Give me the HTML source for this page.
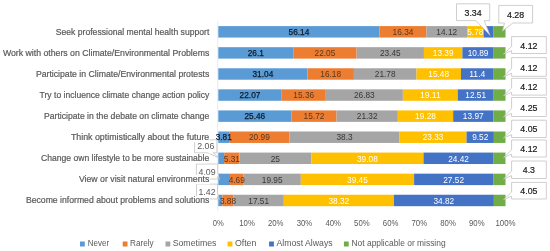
<!DOCTYPE html><html><head><meta charset="utf-8"><title>Chart</title><style>html,body{margin:0;padding:0;background:#fff;overflow:hidden;}svg{display:block;}text{font-family:'Liberation Sans', Arial, sans-serif;}</style></head><body>
<svg width="550" height="251" viewBox="0 0 550 251">
<rect x="0" y="0" width="550" height="251" fill="#fff"/>
<line x1="217.70" y1="21" x2="217.70" y2="211" stroke="#E3E3E3" stroke-width="0.8"/>
<rect x="218.30" y="26.10" width="161.23" height="11.45" fill="#5B9BD5"/>
<rect x="379.53" y="26.10" width="46.93" height="11.45" fill="#ED7D31"/>
<rect x="426.46" y="26.10" width="40.55" height="11.45" fill="#A5A5A5"/>
<rect x="467.02" y="26.10" width="16.60" height="11.45" fill="#FFC000"/>
<rect x="483.62" y="26.10" width="9.59" height="11.45" fill="#4472C4"/>
<rect x="493.21" y="26.10" width="12.29" height="11.45" fill="#70AD47"/>
<rect x="218.30" y="47.18" width="74.96" height="11.45" fill="#5B9BD5"/>
<rect x="293.26" y="47.18" width="63.33" height="11.45" fill="#ED7D31"/>
<rect x="356.59" y="47.18" width="67.35" height="11.45" fill="#A5A5A5"/>
<rect x="423.94" y="47.18" width="38.46" height="11.45" fill="#FFC000"/>
<rect x="462.39" y="47.18" width="31.28" height="11.45" fill="#4472C4"/>
<rect x="493.67" y="47.18" width="11.83" height="11.45" fill="#70AD47"/>
<rect x="218.30" y="68.26" width="89.15" height="11.45" fill="#5B9BD5"/>
<rect x="307.45" y="68.26" width="46.47" height="11.45" fill="#ED7D31"/>
<rect x="353.92" y="68.26" width="62.55" height="11.45" fill="#A5A5A5"/>
<rect x="416.47" y="68.26" width="44.46" height="11.45" fill="#FFC000"/>
<rect x="460.93" y="68.26" width="32.74" height="11.45" fill="#4472C4"/>
<rect x="493.67" y="68.26" width="11.83" height="11.45" fill="#70AD47"/>
<rect x="218.30" y="89.34" width="63.39" height="11.45" fill="#5B9BD5"/>
<rect x="281.69" y="89.34" width="44.11" height="11.45" fill="#ED7D31"/>
<rect x="325.80" y="89.34" width="77.06" height="11.45" fill="#A5A5A5"/>
<rect x="402.85" y="89.34" width="54.88" height="11.45" fill="#FFC000"/>
<rect x="457.74" y="89.34" width="35.93" height="11.45" fill="#4472C4"/>
<rect x="493.67" y="89.34" width="11.83" height="11.45" fill="#70AD47"/>
<rect x="218.30" y="110.42" width="73.12" height="11.45" fill="#5B9BD5"/>
<rect x="291.42" y="110.42" width="45.15" height="11.45" fill="#ED7D31"/>
<rect x="336.57" y="110.42" width="61.23" height="11.45" fill="#A5A5A5"/>
<rect x="397.80" y="110.42" width="55.37" height="11.45" fill="#FFC000"/>
<rect x="453.17" y="110.42" width="40.12" height="11.45" fill="#4472C4"/>
<rect x="493.29" y="110.42" width="12.21" height="11.45" fill="#70AD47"/>
<rect x="218.30" y="131.50" width="10.94" height="11.45" fill="#5B9BD5"/>
<rect x="229.24" y="131.50" width="60.28" height="11.45" fill="#ED7D31"/>
<rect x="289.53" y="131.50" width="110.00" height="11.45" fill="#A5A5A5"/>
<rect x="399.52" y="131.50" width="67.00" height="11.45" fill="#FFC000"/>
<rect x="466.53" y="131.50" width="27.34" height="11.45" fill="#4472C4"/>
<rect x="493.87" y="131.50" width="11.63" height="11.45" fill="#70AD47"/>
<rect x="218.30" y="152.58" width="5.92" height="11.45" fill="#5B9BD5"/>
<rect x="224.22" y="152.58" width="15.25" height="11.45" fill="#ED7D31"/>
<rect x="239.47" y="152.58" width="71.80" height="11.45" fill="#A5A5A5"/>
<rect x="311.27" y="152.58" width="112.24" height="11.45" fill="#FFC000"/>
<rect x="423.50" y="152.58" width="70.13" height="11.45" fill="#4472C4"/>
<rect x="493.64" y="152.58" width="11.83" height="11.45" fill="#70AD47"/>
<rect x="218.30" y="173.66" width="11.75" height="11.45" fill="#5B9BD5"/>
<rect x="230.05" y="173.66" width="13.47" height="11.45" fill="#ED7D31"/>
<rect x="243.52" y="173.66" width="57.30" height="11.45" fill="#A5A5A5"/>
<rect x="300.81" y="173.66" width="113.30" height="11.45" fill="#FFC000"/>
<rect x="414.11" y="173.66" width="79.04" height="11.45" fill="#4472C4"/>
<rect x="493.15" y="173.66" width="12.35" height="11.45" fill="#70AD47"/>
<rect x="218.30" y="194.74" width="4.08" height="11.45" fill="#5B9BD5"/>
<rect x="222.38" y="194.74" width="11.14" height="11.45" fill="#ED7D31"/>
<rect x="233.52" y="194.74" width="50.29" height="11.45" fill="#A5A5A5"/>
<rect x="283.81" y="194.74" width="110.06" height="11.45" fill="#FFC000"/>
<rect x="393.87" y="194.74" width="100.00" height="11.45" fill="#4472C4"/>
<rect x="493.87" y="194.74" width="11.63" height="11.45" fill="#70AD47"/>
<text x="288.54" y="35.03" font-size="9.1" fill="#0e1a26" stroke="#0e1a26" stroke-width="0.25" textLength="20.75" lengthAdjust="spacingAndGlyphs">56.14</text>
<text x="392.62" y="35.03" font-size="9.1" fill="#553822" textLength="20.75" lengthAdjust="spacingAndGlyphs">16.34</text>
<text x="436.36" y="35.03" font-size="9.1" fill="#383838" textLength="20.75" lengthAdjust="spacingAndGlyphs">14.12</text>
<text x="467.25" y="35.03" font-size="9.1" fill="#FFFFFF" textLength="16.13" lengthAdjust="spacingAndGlyphs">5.78</text>
<text x="247.71" y="56.11" font-size="9.1" fill="#0e1a26" stroke="#0e1a26" stroke-width="0.25" textLength="16.13" lengthAdjust="spacingAndGlyphs">26.1</text>
<text x="314.55" y="56.11" font-size="9.1" fill="#553822" textLength="20.75" lengthAdjust="spacingAndGlyphs">22.05</text>
<text x="379.89" y="56.11" font-size="9.1" fill="#383838" textLength="20.75" lengthAdjust="spacingAndGlyphs">23.45</text>
<text x="432.79" y="56.11" font-size="9.1" fill="#FFFFFF" textLength="20.75" lengthAdjust="spacingAndGlyphs">13.39</text>
<text x="467.66" y="56.11" font-size="9.1" fill="#FFFFFF" textLength="20.75" lengthAdjust="spacingAndGlyphs">10.89</text>
<text x="252.50" y="77.18" font-size="9.1" fill="#0e1a26" stroke="#0e1a26" stroke-width="0.25" textLength="20.75" lengthAdjust="spacingAndGlyphs">31.04</text>
<text x="320.31" y="77.18" font-size="9.1" fill="#553822" textLength="20.75" lengthAdjust="spacingAndGlyphs">16.18</text>
<text x="374.82" y="77.18" font-size="9.1" fill="#383838" textLength="20.75" lengthAdjust="spacingAndGlyphs">21.78</text>
<text x="428.32" y="77.18" font-size="9.1" fill="#FFFFFF" textLength="20.75" lengthAdjust="spacingAndGlyphs">15.48</text>
<text x="469.23" y="77.18" font-size="9.1" fill="#FFFFFF" textLength="16.13" lengthAdjust="spacingAndGlyphs">11.4</text>
<text x="239.62" y="98.27" font-size="9.1" fill="#0e1a26" stroke="#0e1a26" stroke-width="0.25" textLength="20.75" lengthAdjust="spacingAndGlyphs">22.07</text>
<text x="293.37" y="98.27" font-size="9.1" fill="#553822" textLength="20.75" lengthAdjust="spacingAndGlyphs">15.36</text>
<text x="353.95" y="98.27" font-size="9.1" fill="#383838" textLength="20.75" lengthAdjust="spacingAndGlyphs">26.83</text>
<text x="419.92" y="98.27" font-size="9.1" fill="#FFFFFF" textLength="20.75" lengthAdjust="spacingAndGlyphs">19.11</text>
<text x="465.33" y="98.27" font-size="9.1" fill="#FFFFFF" textLength="20.75" lengthAdjust="spacingAndGlyphs">12.51</text>
<text x="244.49" y="119.34" font-size="9.1" fill="#0e1a26" stroke="#0e1a26" stroke-width="0.25" textLength="20.75" lengthAdjust="spacingAndGlyphs">25.46</text>
<text x="303.62" y="119.34" font-size="9.1" fill="#553822" textLength="20.75" lengthAdjust="spacingAndGlyphs">15.72</text>
<text x="356.81" y="119.34" font-size="9.1" fill="#383838" textLength="20.75" lengthAdjust="spacingAndGlyphs">21.32</text>
<text x="415.11" y="119.34" font-size="9.1" fill="#FFFFFF" textLength="20.75" lengthAdjust="spacingAndGlyphs">19.28</text>
<text x="462.86" y="119.34" font-size="9.1" fill="#FFFFFF" textLength="20.75" lengthAdjust="spacingAndGlyphs">13.97</text>
<text x="215.70" y="140.42" font-size="9.1" fill="#0e1a26" stroke="#0e1a26" stroke-width="0.25" textLength="16.13" lengthAdjust="spacingAndGlyphs">3.81</text>
<text x="249.01" y="140.42" font-size="9.1" fill="#553822" textLength="20.75" lengthAdjust="spacingAndGlyphs">20.99</text>
<text x="336.46" y="140.42" font-size="9.1" fill="#383838" textLength="16.13" lengthAdjust="spacingAndGlyphs">38.3</text>
<text x="422.65" y="140.42" font-size="9.1" fill="#FFFFFF" textLength="20.75" lengthAdjust="spacingAndGlyphs">23.33</text>
<text x="472.13" y="140.42" font-size="9.1" fill="#FFFFFF" textLength="16.13" lengthAdjust="spacingAndGlyphs">9.52</text>
<text x="223.77" y="161.50" font-size="9.1" fill="#553822" textLength="16.13" lengthAdjust="spacingAndGlyphs">5.31</text>
<text x="270.75" y="161.50" font-size="9.1" fill="#383838" textLength="9.23" lengthAdjust="spacingAndGlyphs">25</text>
<text x="357.01" y="161.50" font-size="9.1" fill="#FFFFFF" textLength="20.75" lengthAdjust="spacingAndGlyphs">39.08</text>
<text x="448.20" y="161.50" font-size="9.1" fill="#FFFFFF" textLength="20.75" lengthAdjust="spacingAndGlyphs">24.42</text>
<text x="228.71" y="182.58" font-size="9.1" fill="#553822" textLength="16.13" lengthAdjust="spacingAndGlyphs">4.69</text>
<text x="261.79" y="182.58" font-size="9.1" fill="#383838" textLength="20.75" lengthAdjust="spacingAndGlyphs">19.95</text>
<text x="347.09" y="182.58" font-size="9.1" fill="#FFFFFF" textLength="20.75" lengthAdjust="spacingAndGlyphs">39.45</text>
<text x="443.26" y="182.58" font-size="9.1" fill="#FFFFFF" textLength="20.75" lengthAdjust="spacingAndGlyphs">27.52</text>
<text x="219.88" y="203.66" font-size="9.1" fill="#553822" textLength="16.13" lengthAdjust="spacingAndGlyphs">3.88</text>
<text x="248.29" y="203.66" font-size="9.1" fill="#383838" textLength="20.75" lengthAdjust="spacingAndGlyphs">17.51</text>
<text x="328.46" y="203.66" font-size="9.1" fill="#FFFFFF" textLength="20.75" lengthAdjust="spacingAndGlyphs">38.32</text>
<text x="433.49" y="203.66" font-size="9.1" fill="#FFFFFF" textLength="20.75" lengthAdjust="spacingAndGlyphs">34.82</text>
<path d="M511.60 36.60 L546.30 36.60 L546.30 53.50 L511.60 53.50 L511.60 50.68 L503.50 54.10 L511.60 46.46 Z" fill="#fff" stroke="#BFBFBF" stroke-width="0.75"/>
<text x="528.90" y="48.65" font-size="8.8" fill="#1a1a1a" stroke="#1a1a1a" stroke-width="0.2" text-anchor="middle">4.12</text>
<path d="M511.60 57.60 L546.30 57.60 L546.30 76.30 L511.60 76.30 L511.60 73.18 L503.50 76.90 L511.60 68.51 Z" fill="#fff" stroke="#BFBFBF" stroke-width="0.75"/>
<text x="528.90" y="70.55" font-size="8.8" fill="#1a1a1a" stroke="#1a1a1a" stroke-width="0.2" text-anchor="middle">4.12</text>
<path d="M511.60 78.30 L546.30 78.30 L546.30 95.10 L511.60 95.10 L511.60 92.30 L503.50 95.70 L511.60 88.10 Z" fill="#fff" stroke="#BFBFBF" stroke-width="0.75"/>
<text x="528.90" y="90.30" font-size="8.8" fill="#1a1a1a" stroke="#1a1a1a" stroke-width="0.2" text-anchor="middle">4.12</text>
<path d="M511.60 97.50 L546.30 97.50 L546.30 116.50 L511.60 116.50 L511.60 113.33 L503.50 117.10 L511.60 108.58 Z" fill="#fff" stroke="#BFBFBF" stroke-width="0.75"/>
<text x="528.90" y="110.60" font-size="8.8" fill="#1a1a1a" stroke="#1a1a1a" stroke-width="0.2" text-anchor="middle">4.25</text>
<path d="M511.60 120.20 L546.30 120.20 L546.30 137.50 L511.60 137.50 L511.60 134.62 L503.50 138.10 L511.60 130.29 Z" fill="#fff" stroke="#BFBFBF" stroke-width="0.75"/>
<text x="528.90" y="132.45" font-size="8.8" fill="#1a1a1a" stroke="#1a1a1a" stroke-width="0.2" text-anchor="middle">4.05</text>
<path d="M511.60 140.00 L546.30 140.00 L546.30 157.00 L511.60 157.00 L511.60 154.17 L503.50 157.60 L511.60 149.92 Z" fill="#fff" stroke="#BFBFBF" stroke-width="0.75"/>
<text x="528.90" y="152.10" font-size="8.8" fill="#1a1a1a" stroke="#1a1a1a" stroke-width="0.2" text-anchor="middle">4.12</text>
<path d="M511.60 161.00 L546.30 161.00 L546.30 178.50 L511.60 178.50 L511.60 175.58 L503.50 179.10 L511.60 171.21 Z" fill="#fff" stroke="#BFBFBF" stroke-width="0.75"/>
<text x="528.90" y="173.35" font-size="8.8" fill="#1a1a1a" stroke="#1a1a1a" stroke-width="0.2" text-anchor="middle">4.3</text>
<path d="M511.60 182.40 L546.30 182.40 L546.30 199.00 L511.60 199.00 L511.60 196.23 L503.50 199.60 L511.60 192.08 Z" fill="#fff" stroke="#BFBFBF" stroke-width="0.75"/>
<text x="528.90" y="194.30" font-size="8.8" fill="#1a1a1a" stroke="#1a1a1a" stroke-width="0.2" text-anchor="middle">4.05</text>
<path d="M456.50 3.80 L489.70 3.80 L489.70 20.60 L484.17 20.60 L490.00 35.30 L475.87 20.60 L456.50 20.60 Z" fill="#fff" stroke="#BFBFBF" stroke-width="0.75"/>
<text x="473.10" y="16.00" font-size="8.8" fill="#1a1a1a" stroke="#1a1a1a" stroke-width="0.2" text-anchor="middle">3.34</text>
<path d="M498.80 5.40 L532.60 5.40 L532.60 23.00 L512.88 23.00 L502.50 31.00 L504.43 23.00 L498.80 23.00 Z" fill="#fff" stroke="#BFBFBF" stroke-width="0.75"/>
<text x="515.60" y="17.75" font-size="8.8" fill="#1a1a1a" stroke="#1a1a1a" stroke-width="0.2" text-anchor="middle">4.28</text>
<path d="M194.60 139.80 L216.90 139.80 L216.90 152.80 L213.18 152.80 L219.00 158.00 L207.61 152.80 L194.60 152.80 Z" fill="#fff" stroke="#BFBFBF" stroke-width="0.75"/>
<text x="205.75" y="149.40" font-size="8.8" fill="#595959" text-anchor="middle">2.06</text>
<path d="M196.40 164.00 L217.70 164.00 L217.70 172.75 L219.60 179.60 L217.70 176.50 L217.70 179.00 L196.40 179.00 Z" fill="#fff" stroke="#BFBFBF" stroke-width="0.75"/>
<text x="207.05" y="174.60" font-size="8.8" fill="#595959" text-anchor="middle">4.09</text>
<path d="M196.50 184.10 L217.50 184.10 L217.50 192.79 L219.30 199.60 L217.50 196.52 L217.50 199.00 L196.50 199.00 Z" fill="#fff" stroke="#BFBFBF" stroke-width="0.75"/>
<text x="207.00" y="194.65" font-size="8.8" fill="#595959" text-anchor="middle">1.42</text>
<rect x="55.30" y="27.23" width="154.50" height="9.60" fill="#fff"/>
<text x="55.80" y="34.83" font-size="9" fill="#595959" stroke="#595959" stroke-width="0.2" textLength="153.50" lengthAdjust="spacingAndGlyphs">Seek professional mental health support</text>
<rect x="2.40" y="48.30" width="207.40" height="9.60" fill="#fff"/>
<text x="2.90" y="55.91" font-size="9" fill="#595959" stroke="#595959" stroke-width="0.2" textLength="206.40" lengthAdjust="spacingAndGlyphs">Work with others on Climate/Environmental Problems</text>
<rect x="35.40" y="69.38" width="174.40" height="9.60" fill="#fff"/>
<text x="35.90" y="76.98" font-size="9" fill="#595959" stroke="#595959" stroke-width="0.2" textLength="173.40" lengthAdjust="spacingAndGlyphs">Participate in Climate/Environmental protests</text>
<rect x="39.10" y="90.47" width="170.70" height="9.60" fill="#fff"/>
<text x="39.60" y="98.06" font-size="9" fill="#595959" stroke="#595959" stroke-width="0.2" textLength="169.70" lengthAdjust="spacingAndGlyphs">Try to incluence climate change action policy</text>
<rect x="43.50" y="111.54" width="166.30" height="9.60" fill="#fff"/>
<text x="44.00" y="119.14" font-size="9" fill="#595959" stroke="#595959" stroke-width="0.2" textLength="165.30" lengthAdjust="spacingAndGlyphs">Participate in the debate on climate change</text>
<rect x="70.40" y="132.62" width="139.40" height="9.60" fill="#fff"/>
<text x="70.90" y="140.22" font-size="9" fill="#595959" stroke="#595959" stroke-width="0.2" textLength="138.40" lengthAdjust="spacingAndGlyphs">Think optimistically about the future</text>
<rect x="40.50" y="153.70" width="169.30" height="9.60" fill="#fff"/>
<text x="41.00" y="161.30" font-size="9" fill="#595959" stroke="#595959" stroke-width="0.2" textLength="168.30" lengthAdjust="spacingAndGlyphs">Change own lifestyle to be more sustainable</text>
<rect x="78.40" y="174.78" width="131.40" height="9.60" fill="#fff"/>
<text x="78.90" y="182.38" font-size="9" fill="#595959" stroke="#595959" stroke-width="0.2" textLength="130.40" lengthAdjust="spacingAndGlyphs">View or visit natural environments</text>
<rect x="25.40" y="195.86" width="184.40" height="9.60" fill="#fff"/>
<text x="25.90" y="203.46" font-size="9" fill="#595959" stroke="#595959" stroke-width="0.2" textLength="183.40" lengthAdjust="spacingAndGlyphs">Become informed about problems and solutions</text>
<text x="212.80" y="225.80" font-size="8.8" fill="#595959" textLength="11.00" lengthAdjust="spacingAndGlyphs">0%</text>
<text x="239.24" y="225.80" font-size="8.8" fill="#595959" textLength="15.56" lengthAdjust="spacingAndGlyphs">10%</text>
<text x="267.96" y="225.80" font-size="8.8" fill="#595959" textLength="15.56" lengthAdjust="spacingAndGlyphs">20%</text>
<text x="296.68" y="225.80" font-size="8.8" fill="#595959" textLength="15.56" lengthAdjust="spacingAndGlyphs">30%</text>
<text x="325.40" y="225.80" font-size="8.8" fill="#595959" textLength="15.56" lengthAdjust="spacingAndGlyphs">40%</text>
<text x="354.12" y="225.80" font-size="8.8" fill="#595959" textLength="15.56" lengthAdjust="spacingAndGlyphs">50%</text>
<text x="382.84" y="225.80" font-size="8.8" fill="#595959" textLength="15.56" lengthAdjust="spacingAndGlyphs">60%</text>
<text x="411.56" y="225.80" font-size="8.8" fill="#595959" textLength="15.56" lengthAdjust="spacingAndGlyphs">70%</text>
<text x="440.28" y="225.80" font-size="8.8" fill="#595959" textLength="15.56" lengthAdjust="spacingAndGlyphs">80%</text>
<text x="469.00" y="225.80" font-size="8.8" fill="#595959" textLength="15.56" lengthAdjust="spacingAndGlyphs">90%</text>
<text x="495.44" y="225.80" font-size="8.8" fill="#595959" textLength="20.12" lengthAdjust="spacingAndGlyphs">100%</text>
<rect x="80.00" y="241.5" width="4.8" height="5.0" fill="#5B9BD5"/>
<text x="87.80" y="246.2" font-size="8.6" fill="#595959" textLength="21.30" lengthAdjust="spacingAndGlyphs">Never</text>
<rect x="122.70" y="241.5" width="4.8" height="5.0" fill="#ED7D31"/>
<text x="130.00" y="246.2" font-size="8.6" fill="#595959" textLength="23.60" lengthAdjust="spacingAndGlyphs">Rarely</text>
<rect x="165.50" y="241.5" width="4.8" height="5.0" fill="#A5A5A5"/>
<text x="172.70" y="246.2" font-size="8.6" fill="#595959" textLength="43.70" lengthAdjust="spacingAndGlyphs">Sometimes</text>
<rect x="227.60" y="241.5" width="4.8" height="5.0" fill="#FFC000"/>
<text x="234.90" y="246.2" font-size="8.6" fill="#595959" textLength="21.50" lengthAdjust="spacingAndGlyphs">Often</text>
<rect x="269.10" y="241.5" width="4.8" height="5.0" fill="#4472C4"/>
<text x="276.40" y="246.2" font-size="8.6" fill="#595959" textLength="56.30" lengthAdjust="spacingAndGlyphs">Almost Always</text>
<rect x="343.90" y="241.5" width="4.8" height="5.0" fill="#70AD47"/>
<text x="351.50" y="246.2" font-size="8.6" fill="#595959" textLength="94.10" lengthAdjust="spacingAndGlyphs">Not applicable or missing</text>
</svg></body></html>
